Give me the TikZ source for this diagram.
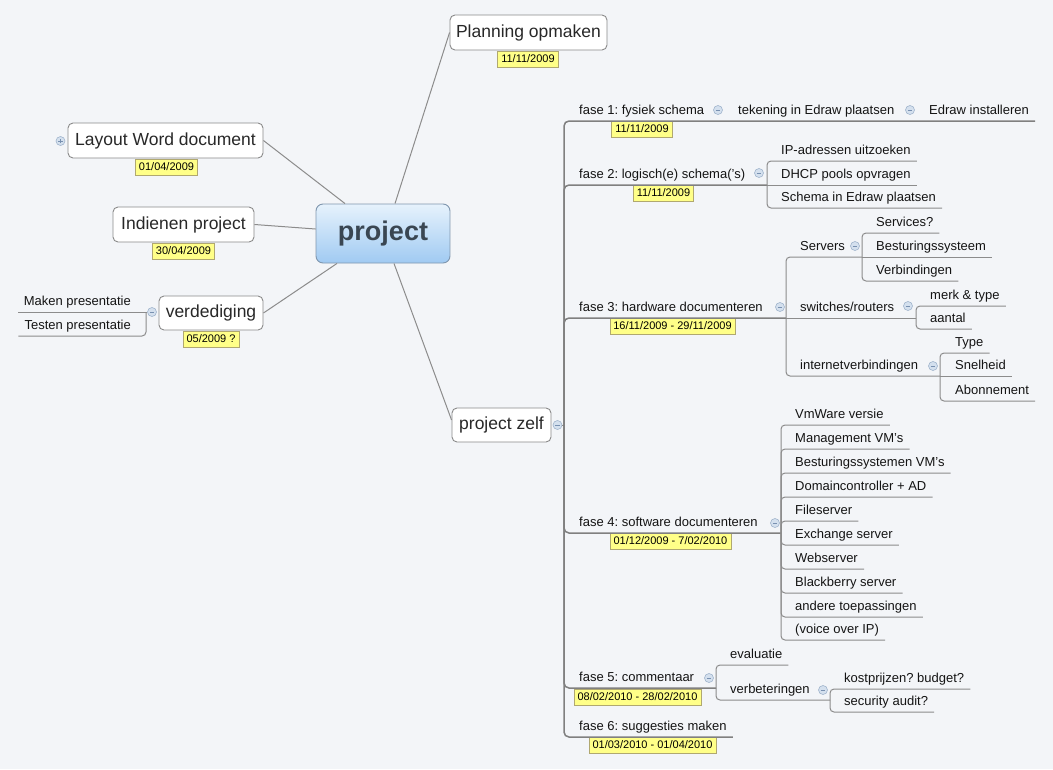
\documentclass[tikz,border=0pt]{standalone}
\usepackage{fontspec}
\setmainfont{Liberation Sans}
\frenchspacing
\definecolor{bgc}{RGB}{243,245,248}
\definecolor{linec}{RGB}{140,140,140}
\definecolor{trunkc}{RGB}{128,128,128}
\definecolor{boxbd}{RGB}{138,138,138}
\definecolor{txt}{RGB}{20,20,20}
\definecolor{bigtxt}{RGB}{40,40,40}
\definecolor{dateyel}{RGB}{255,255,136}
\definecolor{datebd}{RGB}{176,168,112}
\definecolor{colfill}{RGB}{212,224,238}
\definecolor{colbd}{RGB}{160,180,204}
\definecolor{colmin}{RGB}{120,144,176}
\definecolor{ctop}{RGB}{230,242,252}
\definecolor{cbot}{RGB}{160,202,242}
\definecolor{cbd}{RGB}{127,150,174}
\definecolor{ctxt}{RGB}{58,70,82}
\tikzset{
  leaf/.style={anchor=south west, inner xsep=6pt, inner ysep=0pt, text height=9.5pt, text depth=6pt, font=\fontsize{13}{15}\selectfont, text=txt},
  datebox/.style={draw=datebd, fill=dateyel, font=\fontsize{11}{13}\selectfont, inner xsep=3.5pt, inner ysep=0pt, text height=8.5pt, text depth=2.5pt, minimum height=16pt, text=black, line width=0.6pt},
  bigbox/.style={draw=boxbd, fill=white, rounded corners=5pt, font=\fontsize{17.5}{20}\selectfont, text=bigtxt, minimum height=35pt, inner xsep=6pt, line width=0.9pt},
  centrebox/.style={draw=cbd, rounded corners=7pt, top color=ctop, bottom color=cbot, minimum width=134pt, minimum height=59pt, font=\bfseries\fontsize{27}{30}\selectfont, text=ctxt, line width=0.9pt},
  colic/.style={circle, draw=colbd, fill=colfill, minimum size=9pt, inner sep=0pt, line width=0.6pt,
    path picture={\draw[colmin, line width=0.8pt] ([xshift=-2.3pt]path picture bounding box.center) -- ([xshift=2.3pt]path picture bounding box.center);}},
  plusic/.style={circle, draw=colbd, fill=colfill, minimum size=9pt, inner sep=0pt, line width=0.6pt,
    path picture={\draw[colmin, line width=0.8pt] ([xshift=-2.3pt]path picture bounding box.center) -- ([xshift=2.3pt]path picture bounding box.center) ([yshift=-2.3pt]path picture bounding box.center) -- ([yshift=2.3pt]path picture bounding box.center);}},
  link/.style={draw=linec, line width=1pt, rounded corners=4pt},
  trunk/.style={draw=trunkc, line width=1.5pt, rounded corners=5pt},
  cline/.style={draw=linec, line width=1pt}
}
\begin{document}
\begin{tikzpicture}[x=1pt,y=-1pt]
\useasboundingbox (0,0) rectangle (1053,769);
\fill[bgc] (0,0) rectangle (1053,769);

% main topics
\node[centrebox] (project) at (383,233.5) {project};
\node[bigbox, minimum width=155pt] (plan) at (528.5,32.5) {Planning opmaken};
\node[datebox] (planD) at (528,59) {11/11/2009};
\node[bigbox, minimum width=195pt] (layout) at (165.5,140.5) {Layout Word document};
\node[datebox] (layoutD) at (166.5,167) {01/04/2009};
\node[plusic] (layoutC) at (60.5,141) {};
\node[bigbox, minimum width=141pt] (indienen) at (183.5,224.5) {Indienen project};
\node[datebox] (indienenD) at (183.5,251) {30/04/2009};
\node[bigbox, minimum width=104pt, minimum height=34pt] (verd) at (211,313) {verdediging};
\node[datebox] (verdD) at (211,339) {05/2009 ?};
\node[colic] (verdC) at (152,312) {};
\node[bigbox, minimum width=99pt, minimum height=34pt] (zelf) at (501.5,425) {project zelf};
\node[colic] (zelfC) at (557.5,425) {};

% left leaves
\coordinate (verdJ) at (146,312);
\node[leaf, anchor=south east] (mk) at (137,312) {Maken presentatie};
\node[leaf, anchor=south east] (ts) at (137,336) {Testen presentatie};

% fase 1
\node[leaf] (f1) at (573,121) {fase 1: fysiek schema};
\node[datebox] (f1D) at (642,129.5) {11/11/2009};
\node[colic] (f1C) at (718,110) {};
\node[leaf] (f1a) at (732,121) {tekening in Edraw plaatsen};
\node[colic] (f1aC) at (910,110) {};
\node[leaf] (f1b) at (923,121) {Edraw installeren};

% fase 2
\node[leaf] (f2) at (573,185) {fase 2: logisch(e) schema('s)};
\node[datebox] (f2D) at (663.5,193) {11/11/2009};
\node[colic] (f2C) at (759,173) {};
\coordinate (f2J) at (767,185);
\node[leaf] (f2a) at (775,161) {IP-adressen uitzoeken};
\node[leaf] (f2b) at (775,185) {DHCP pools opvragen};
\node[leaf] (f2c) at (775,208) {Schema in Edraw plaatsen};

% fase 3
\node[leaf] (f3) at (573,318) {fase 3: hardware documenteren};
\node[datebox] (f3D) at (672.5,326) {16/11/2009 - 29/11/2009};
\node[colic] (f3C) at (780,307) {};
\coordinate (f3J) at (786,318);
\node[leaf] (srv) at (794,257) {Servers};
\node[colic] (srvC) at (855,246) {};
\coordinate (srvJ) at (862,257);
\node[leaf] (srv1) at (870,233) {Services?};
\node[leaf] (srv2) at (870,257) {Besturingssysteem};
\node[leaf] (srv3) at (870,281) {Verbindingen};
\node[leaf] (sw) at (794,318) {switches/routers};
\node[colic] (swC) at (908,306) {};
\coordinate (swJ) at (916,318);
\node[leaf] (sw1) at (924,306) {merk \& type};
\node[leaf] (sw2) at (924,329) {aantal};
\node[leaf] (inet) at (794,376) {internetverbindingen};
\node[colic] (inetC) at (933,366) {};
\coordinate (inetJ) at (940,376);
\node[leaf] (inet1) at (949,353) {Type};
\node[leaf] (inet2) at (949,376) {Snelheid};
\node[leaf] (inet3) at (949,401) {Abonnement};

% fase 4
\node[leaf] (f4) at (573,533) {fase 4: software documenteren};
\node[datebox] (f4D) at (670.5,541) {01/12/2009 - 7/02/2010};
\node[colic] (f4C) at (775,523) {};
\coordinate (f4J) at (781,533);
\node[leaf] (s1) at (789,425) {VmWare versie};
\node[leaf] (s2) at (789,449) {Management VM's};
\node[leaf] (s3) at (789,473) {Besturingssystemen VM's};
\node[leaf] (s4) at (789,497) {Domaincontroller + AD};
\node[leaf] (s5) at (789,521) {Fileserver};
\node[leaf] (s6) at (789,545) {Exchange server};
\node[leaf] (s7) at (789,569) {Webserver};
\node[leaf] (s8) at (789,593) {Blackberry server};
\node[leaf] (s9) at (789,617) {andere toepassingen};
\node[leaf] (s10) at (789,640) {(voice over IP)};

% fase 5
\node[leaf] (f5) at (573,688) {fase 5: commentaar};
\node[datebox] (f5D) at (637.5,697) {08/02/2010 - 28/02/2010};
\node[colic] (f5C) at (709,678) {};
\coordinate (f5J) at (716,688);
\node[leaf] (ev) at (724,665) {evaluatie};
\node[leaf] (vb) at (724,700) {verbeteringen};
\node[colic] (vbC) at (823,690) {};
\coordinate (vbJ) at (830,700);
\node[leaf] (vb1) at (838,689) {kostprijzen? budget?};
\node[leaf] (vb2) at (838,712) {security audit?};

% fase 6
\node[leaf] (f6) at (573,737) {fase 6: suggesties maken};
\node[datebox] (f6D) at (652.5,745) {01/03/2010 - 01/04/2010};

% central connectors
\draw[cline] ([xshift=12pt]project.north) -- (plan.west);
\draw[cline] ([xshift=-38pt]project.north) -- (layout.east);
\draw[cline] ([yshift=4.5pt]project.west) -- (indienen.east);
\draw[cline] ([xshift=-46pt]project.south) -- (verd.east);
\draw[cline] ([xshift=11pt]project.south) -- ([yshift=5pt]zelf.west);

% verdediging subtree
\draw[link] (verdC) -- (verdJ);
\draw[link] (verdJ) -- (mk.south west);
\draw[link] (verdJ) |- (ts.south west);

% trunk
\coordinate (zJ) at (564,425);
\draw[link] (zelfC) -- (zJ);
\draw[trunk] (zJ) |- (f1b.south east);
\draw[trunk] (zJ) |- (f2J);
\draw[trunk] (zJ) |- (f3J);
\draw[trunk] (zJ) |- (f4J);
\draw[trunk] (zJ) |- (f5J);
\draw[trunk] (zJ) |- (f6.south east);

% fase 2 children
\draw[link] (f2J) |- (f2a.south east);
\draw[link] (f2J) -- (f2b.south east);
\draw[link] (f2J) |- (f2c.south east);

% fase 3 children
\draw[link] (f3J) |- (srvJ);
\draw[link] (f3J) -- (swJ);
\draw[link] (f3J) |- (inetJ);
\draw[link] (srvJ) |- (srv1.south east);
\draw[link] (srvJ) -- (srv2.south east);
\draw[link] (srvJ) |- (srv3.south east);
\draw[link] (swJ) |- (sw1.south east);
\draw[link] (swJ) |- (sw2.south east);
\draw[link] (inetJ) |- (inet1.south east);
\draw[link] (inetJ) -- (inet2.south east);
\draw[link] (inetJ) |- (inet3.south east);

% fase 4 children
\foreach \n in {s1,s2,s3,s4,s5,s6,s7,s8,s9,s10}
  \draw[link] (f4J) |- (\n.south east);

% fase 5 children
\draw[link] (f5J) |- (ev.south east);
\draw[link] (f5J) |- (vbJ);
\draw[link] (vbJ) |- (vb1.south east);
\draw[link] (vbJ) |- (vb2.south east);
\end{tikzpicture}
\end{document}
